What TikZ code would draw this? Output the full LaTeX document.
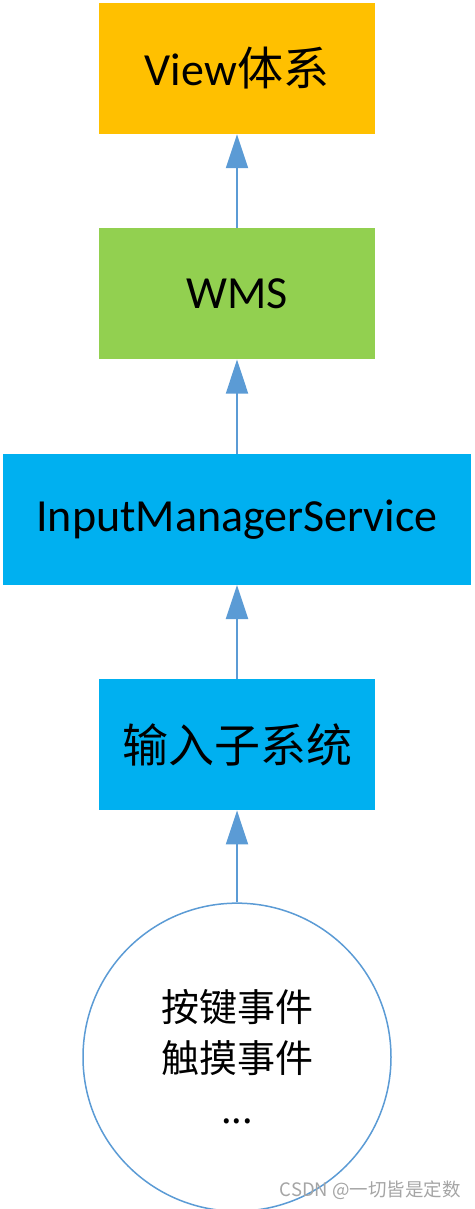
\documentclass[tikz,border=0pt]{standalone}
\usepackage{fontspec}
\setmainfont{Carlito}
\newfontfamily\cjk{Noto Sans CJK SC}
\usepackage{tikz}
\usetikzlibrary{arrows.meta,positioning,shapes}
\definecolor{amber}{RGB}{255,192,0}
\definecolor{leafgreen}{RGB}{146,208,80}
\definecolor{skyblue}{RGB}{0,176,240}
\definecolor{steelblue}{RGB}{91,155,213}
\definecolor{markgray}{RGB}{165,165,165}

\begin{document}
\begin{tikzpicture}
              [x=1pt,y=1pt,node distance=94pt,
                every node/.style={rectangle,draw=none,inner sep=0pt,font=\fontsize{46}{52}\selectfont},
                layer/.style={minimum width=276pt,minimum height=131pt},
                up/.style={draw=steelblue,line width=2pt,-{Triangle[width=22pt,length=34pt]}}]
              \useasboundingbox (0,0) rectangle (474,-1209);
              \node[layer,fill=amber] (view) at (237,-68.5) {View{\cjk 体系}};
              \node[layer,fill=leafgreen,below=of view] (wms) {WMS};
              \node[layer,fill=skyblue,minimum width=468pt,below=of wms] (ims) {InputManagerService};
              \node[layer,fill=skyblue,below=of ims] (input) {\cjk 输入子系统};
              \node[circle,draw=steelblue,line width=1.5pt,fill=white,minimum size=308pt,below=92pt of input,
                align=center,font=\cjk\fontsize{38}{51}\selectfont] (events) {按键事件\\触摸事件\\...};
              \foreach \from/\to in {events/input,input/ims,ims/wms,wms/view}
              \draw[up] (\from) -- (\to);
              \node[anchor=east,text=markgray,font=\cjk\fontsize{18.5}{20}\selectfont] (mark) at (461,-1190) {CSDN @一切皆是定数};
            \end{tikzpicture}
\end{document}
